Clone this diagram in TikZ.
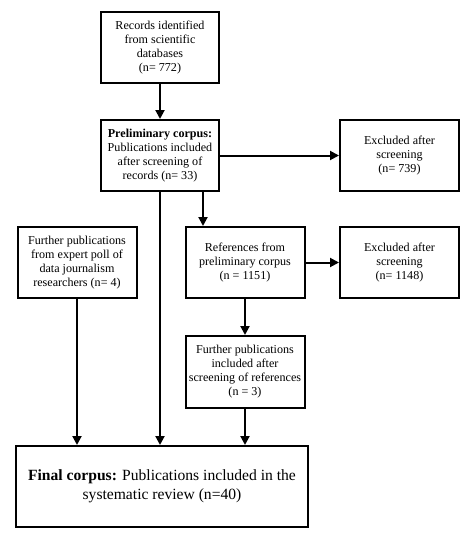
\documentclass[tikz,border=0pt]{standalone}
\usepackage{fontspec}
\setmainfont{Liberation Serif}
\usetikzlibrary{arrows.meta}
\begin{document}
\begin{tikzpicture}[x=1pt,y=-1pt,
  box/.style={draw,line width=2pt,align=center,inner sep=2pt,
    font=\fontsize{12.1}{14}\selectfont,minimum width=119pt,minimum height=71pt},
  bigbox/.style={draw,line width=2pt,align=center,inner sep=2pt,
    font=\fontsize{15.6}{18.5}\selectfont,minimum width=292pt,minimum height=81pt},
  arr/.style={line width=2pt,-{Triangle[length=9pt,width=9pt]}}]
\useasboundingbox (0,0) rectangle (474,541);
\node[box,minimum width=118pt] (rec) at (160,47.5) {Records identified\\from scientific\\databases\\(n= 772)};
\node[box,minimum width=118pt] (pre) at (160,155.5) {\textbf{Preliminary corpus:}\\Publications included\\after screening of\\records (n= 33)};
\node[box] (ex1) at (399.5,155.5) {Excluded after\\screening\\(n= 739)};
\node[box] (exp) at (77,262.5) {Further publications\\from expert poll of\\data journalism\\researchers (n= 4)};
\node[box] (ref) at (245,262.5) {References from\\preliminary corpus\\(n = 1151)};
\node[box] (ex2) at (399.5,262.5) {Excluded after\\screening\\(n= 1148)};
\node[box,minimum height=72pt] (fre) at (245,372) {Further publications\\included after\\screening of references\\(n = 3)};
\node[bigbox] (fin) at (162,486.5) {\textbf{Final corpus:} Publications included in the\\systematic review (n=40)};
\coordinate (p2) at ([xshift=43pt]pre.south);
\draw[arr] (rec) -- (pre);
\draw[arr] (pre) -- (ex1);
\draw[arr] (pre.south) -- (pre.south |- fin.north);
\draw[arr] (p2) -- (p2 |- ref.north);
\draw[arr] (ref) -- (ex2);
\draw[arr] (ref) -- (fre);
\draw[arr] (fre.south) -- (fre.south |- fin.north);
\draw[arr] (exp.south) -- (exp.south |- fin.north);
\end{tikzpicture}
\end{document}
